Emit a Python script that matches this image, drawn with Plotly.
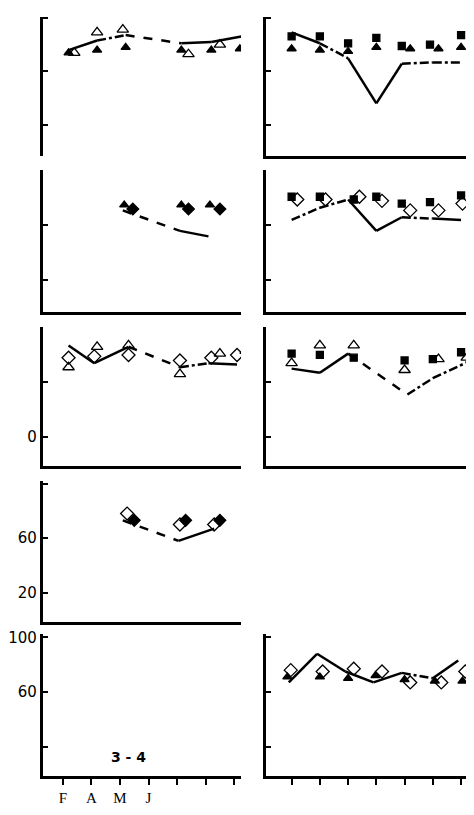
import plotly.graph_objects as go

# x positions: 1..7 = F A M J J A S (tick marks)
# ---- row 1 left
r1l_x_filltri = [1.2, 2.2, 3.2, 5.15, 6.2, 7.2]
r1l_filltri = [73, 75, 77, 75, 75, 76]
r1l_x_opentri = [1.4, 2.2, 3.1, 5.4, 6.5, 7.5]
r1l_opentri = [73, 88, 90, 72, 79, 79]
r1l_x_line = [1.2, 2.2, 3.2, 5.15, 6.2, 7.25]
r1l_line = [75, 82, 86, 80, 81, 85]
r1l_dash = ["solid", "dashdot", "dash", "solid", "solid"]

# ---- row 1 right
r1r_x_sq = [1, 2, 3, 4, 4.9, 5.9, 7]
r1r_sq = [85, 85, 80, 84, 78, 79, 86]
r1r_x_filltri = [1, 2, 3, 4, 5.2, 6.2, 7]
r1r_filltri = [76, 75, 74, 77, 76, 76, 77]
r1r_x_line = [1, 2, 3, 4, 4.9, 6, 7]
r1r_line = [88, 80, 69, 36, 65, 66, 66]
r1r_dash = ["solid", "dashdot", "solid", "solid", "dashdot", "dashdot"]

# ---- row 2 left
r2l_x_filltri = [3.15, 5.15, 6.15]
r2l_filltri = [75, 75, 75]
r2l_x_filldia = [3.45, 5.4, 6.5]
r2l_filldia = [72, 72, 72]
r2l_x_line = [3.1, 5.1, 6.1]
r2l_line = [71, 56, 52]
r2l_dash = ["dash", "solid"]

# ---- row 2 right
r2r_x_sq = [1, 2, 3.2, 4, 4.9, 5.9, 7]
r2r_sq = [81, 81, 79, 81, 76, 77, 82]
r2r_x_opendia = [1.2, 2.2, 3.4, 4.2, 5.2, 6.2, 7.05]
r2r_opendia = [79, 79, 81, 78, 71, 71, 76]
r2r_x_line = [1, 2, 3, 4, 4.9, 6, 7]
r2r_line = [64, 73, 79, 56, 66, 65, 64]
r2r_dash = ["dashdot", "dashdot", "solid", "solid", "dashdot", "solid"]

# ---- row 3 left
r3l_x_opendia = [1.2, 2.1, 3.3, 5.1, 6.2, 7.1]
r3l_opendia = [78, 79, 80, 76, 78, 80]
r3l_x_opentri = [1.2, 2.2, 3.3, 5.1, 6.5, 7.4]
r3l_opentri = [71, 86, 87, 66, 81, 83]
r3l_x_line = [1.2, 2.1, 3.3, 5.1, 6.1, 7.1]
r3l_line = [87, 74, 86, 71, 74, 73]
r3l_dash = ["solid", "solid", "dash", "dashdot", "solid"]

# ---- row 3 right
r3r_x_sq = [1, 2, 3.2, 5, 6, 7]
r3r_sq = [81, 80, 78, 76, 77, 82]
r3r_x_opentri = [1, 2, 3.2, 5, 6.2, 7.2]
r3r_opentri = [74, 87, 87, 69, 77, 78]
r3r_x_line = [1, 2, 3, 5.1, 6, 7.35]
r3r_line = [70, 67, 81, 51, 63, 76]
r3r_dash = ["solid", "solid", "dash", "dashdot", "dashdot"]

# ---- row 4 left
r4l_x_opendia = [3.25, 5.1, 6.3]
r4l_opendia = [78, 70, 70]
r4l_x_filldia = [3.5, 5.3, 6.5]
r4l_filldia = [73, 73, 73]
r4l_x_line = [3.1, 5.05, 6.3]
r4l_line = [73, 58, 67]
r4l_dash = ["dash", "solid"]

# ---- row 5 right
r5r_x_filltri = [0.85, 2.0, 3.0, 3.97, 5.0, 6.07, 7.05]
r5r_filltri = [71, 71, 70, 72, 69, 68, 68]
r5r_x_opendia = [0.97, 2.1, 3.2, 4.2, 5.2, 6.3, 7.15]
r5r_opendia = [76, 75, 77, 75, 67, 67, 75]
r5r_x_line = [0.9, 1.9, 2.9, 3.9, 4.9, 6.0, 6.9]
r5r_line = [67, 88, 75, 67, 74, 70, 83]
r5r_dash = ["solid", "solid", "solid", "solid", "dashdot", "solid"]

month_labels = ["F", "A", "M", "J", "", "", ""]

W, H = 474, 815
rows_px = [(3, 143, 57), (157, 300, 213), (315, 455, 371), (470, 613, 528), (625, 768, 683)]
cols_px = [(33, 232, 0.30, 7.24), (257, 470, 0.09, 7.6)]
S = 1.375

# tick labels for tickvals [20, 60, 100]
ylabels = {
    (2, 0): ["0", "", ""],
    (3, 0): ["20", "60", ""],
    (4, 0): ["", "60", "100"],
}

fig = go.Figure()
layout = dict(width=W, height=H, margin=dict(l=0, r=0, t=0, b=0),
              plot_bgcolor="white", paper_bgcolor="white", showlegend=False)

def ax_id(r, c):
    return r * 2 + c + 1

for r, (T, B, t60) in enumerate(rows_px):
    for c, (L, R, x0, x1) in enumerate(cols_px):
        i = ax_id(r, c)
        sfx = "" if i == 1 else str(i)
        ylo = 60 - (B - t60) / S
        yhi = 60 + (t60 - T) / S
        xa = dict(domain=[L / W, R / W], range=[x0, x1], anchor="y" + sfx,
                  showgrid=False, zeroline=False, showline=not (r == 0 and c == 0),
                  linecolor="black", linewidth=3, fixedrange=True)
        if r == 4:
            xa.update(ticks="outside", ticklen=6, tickwidth=2, tickcolor="black",
                      tickvals=[1, 2, 3, 4, 5, 6, 7],
                      ticktext=month_labels if c == 0 else [""] * 7,
                      tickfont=dict(family="Liberation Serif", size=15, color="black"))
        else:
            xa.update(showticklabels=False)
        ya = dict(domain=[1 - B / H, 1 - T / H], range=[ylo, yhi], anchor="x" + sfx,
                  showgrid=False, zeroline=False, showline=True, linecolor="black",
                  linewidth=3, ticks="inside", ticklen=5, tickwidth=2, tickcolor="black",
                  tickvals=[20, 60, 100 if r else 98.5], fixedrange=True,
                  tickfont=dict(family="DejaVu Sans", size=15, color="black"))
        lab = ylabels.get((r, c))
        if lab:
            ya.update(ticktext=lab)
        else:
            ya.update(showticklabels=False)
        layout["xaxis" + sfx] = xa
        layout["yaxis" + sfx] = ya

def add_line(i, xs, ys, dashes):
    sfx = "" if i == 1 else str(i)
    for k, d in enumerate(dashes):
        fig.add_trace(go.Scatter(x=xs[k:k + 2], y=ys[k:k + 2], mode="lines",
                                 line=dict(color="black", width=2.5, dash=d),
                                 xaxis="x" + sfx, yaxis="y" + sfx))

def add_pts(i, xs, ys, symbol, size=8):
    sfx = "" if i == 1 else str(i)
    fig.add_trace(go.Scatter(x=xs, y=ys, mode="markers",
                             marker=dict(symbol=symbol, size=size, color="black",
                                         line=dict(color="black", width=1.3)),
                             xaxis="x" + sfx, yaxis="y" + sfx))

add_line(1, r1l_x_line, r1l_line, r1l_dash)
add_pts(1, r1l_x_filltri, r1l_filltri, "triangle-up")
add_pts(1, r1l_x_opentri, r1l_opentri, "triangle-up-open", 10)

add_line(2, r1r_x_line, r1r_line, r1r_dash)
add_pts(2, r1r_x_sq, r1r_sq, "square", 7)
add_pts(2, r1r_x_filltri, r1r_filltri, "triangle-up")

add_line(3, r2l_x_line, r2l_line, r2l_dash)
add_pts(3, r2l_x_filltri, r2l_filltri, "triangle-up")
add_pts(3, r2l_x_filldia, r2l_filldia, "diamond", 9)

add_line(4, r2r_x_line, r2r_line, r2r_dash)
add_pts(4, r2r_x_sq, r2r_sq, "square", 7)
add_pts(4, r2r_x_opendia, r2r_opendia, "diamond-open", 10)

add_line(5, r3l_x_line, r3l_line, r3l_dash)
add_pts(5, r3l_x_opendia, r3l_opendia, "diamond-open", 10)
add_pts(5, r3l_x_opentri, r3l_opentri, "triangle-up-open", 10)

add_line(6, r3r_x_line, r3r_line, r3r_dash)
add_pts(6, r3r_x_sq, r3r_sq, "square", 7)
add_pts(6, r3r_x_opentri, r3r_opentri, "triangle-up-open", 10)

add_line(7, r4l_x_line, r4l_line, r4l_dash)
add_pts(7, r4l_x_opendia, r4l_opendia, "diamond-open", 10)
add_pts(7, r4l_x_filldia, r4l_filldia, "diamond", 9)

add_line(10, r5r_x_line, r5r_line, r5r_dash)
add_pts(10, r5r_x_filltri, r5r_filltri, "triangle-up")
add_pts(10, r5r_x_opendia, r5r_opendia, "diamond-open", 10)

layout["annotations"] = [dict(text="<b>3 - 4</b>", x=3.3, y=5, xref="x9", yref="y9",
                              showarrow=False, yanchor="bottom",
                              font=dict(family="DejaVu Sans", size=14, color="black"))]
fig.update_layout(**layout)
fig.write_html("out.html")
